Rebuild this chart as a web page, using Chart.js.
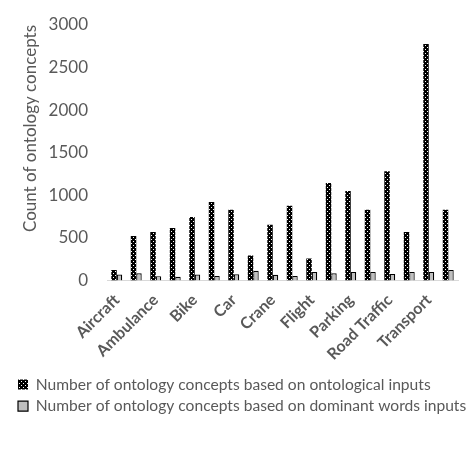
<!DOCTYPE html>
<html>
<head>
<meta charset="utf-8">
<script src="https://cdn.jsdelivr.net/npm/chart.js@4"></script>
<style>
    html, body { margin: 0; padding: 0; background: #ffffff; }
    #wrap { width: 474px; height: 474px; }
</style>
</head>
<body>
<div id="wrap"><canvas id="chart"></canvas></div>
<script>
// Only every other category name is printed in the reference; the hidden ones are left blank
const categories = ['Aircraft', '', 'Ambulance', '', 'Bike', '', 'Car', '', 'Crane', '',
    'Flight', '', 'Parking', '', 'Road Traffic', '', 'Transport', ''];
const ontologicalInputs = [125, 522, 569, 616, 745, 922, 831, 294, 655, 878,
    259, 1145, 1051, 831, 1282, 569, 2776, 831];
const dominantWordsInputs = [70, 86, 52, 45, 70, 55, 75, 114, 67, 55,
    102, 86, 102, 102, 78, 102, 102, 125];
const seriesNames = ['Number of ontology concepts based on ontological inputs',
    'Number of ontology concepts based on dominant words inputs'];
const yMax = 3000;
const yStep = 500;

const textColor = '#595959';
const font = 'Lato, "Open Sans", sans-serif';

function dot_pattern() {
    // black fill with small white dots, like the Excel pattern fill
    const c = document.createElement('canvas');
    c.width = 4;
    c.height = 4;
    const g = c.getContext('2d');
    g.fillStyle = '#000000';
    g.fillRect(0, 0, 4, 4);
    g.fillStyle = '#ffffff';
    g.fillRect(1, 1, 1, 1);
    g.fillRect(3, 3, 1, 1);
    return g.createPattern(c, 'repeat');
}

const ctx = document.getElementById('chart').getContext('2d');
new Chart(ctx, {
    type: 'bar',
    data: {
        labels: categories,
        datasets: [
            {
                label: seriesNames[0],
                data: ontologicalInputs,
                backgroundColor: dot_pattern(),
                borderColor: '#000000',
                borderWidth: 0,
                categoryPercentage: 0.56,
                barPercentage: 1.0
            },
            {
                label: seriesNames[1],
                data: dominantWordsInputs,
                backgroundColor: '#bfbfbf',
                borderColor: '#000000',
                borderWidth: 1.2,
                categoryPercentage: 0.56,
                barPercentage: 1.0
            }
        ]
    },
    options: {
        responsive: true,
        maintainAspectRatio: false,
        animation: false,
        layout: {
            padding: { left: 12, right: 4, top: 25, bottom: 50 }
        },
        plugins: {
            tooltip: { enabled: false },
            legend: {
                position: 'bottom',
                align: 'start',
                labels: {
                    boxWidth: 10,
                    boxHeight: 10,
                    padding: 6,
                    color: textColor,
                    font: { family: font, size: 15.6 }
                }
            }
        },
        scales: {
            x: {
                grid: { display: false },
                border: { display: true, color: '#d9d9d9', width: 1 },
                ticks: {
                    autoSkip: false,
                    minRotation: 45,
                    maxRotation: 45,
                    padding: 2,
                    color: textColor,
                    font: { family: font, size: 16, weight: 'bold' }
                },
                afterFit: scale => { scale.height += 5; }
            },
            y: {
                min: 0,
                max: yMax,
                grid: { display: false, drawTicks: false },
                border: { display: false },
                ticks: {
                    stepSize: yStep,
                    padding: 19,
                    color: textColor,
                    font: { family: font, size: 17 },
                    callback: value => String(value)
                },
                title: {
                    display: true,
                    align: 'end',
                    text: 'Count of ontology concepts',
                    color: textColor,
                    padding: 8,
                    font: { family: font, size: 17 }
                },
                afterFit: scale => {
                    scale.width = 95;
                    // top label room comes from the layout padding instead
                    scale.paddingTop = 0;
                    scale.paddingBottom = 0;
                }
            },
            // empty strip on the right so the plot ends where the reference does
            // while the legend text can run further right
            yRight: {
                position: 'right',
                grid: { display: false, drawTicks: false },
                border: { display: false },
                ticks: { display: false },
                afterFit: scale => {
                    scale.width = 12;
                    scale.paddingTop = 0;
                    scale.paddingBottom = 0;
                }
            }
        }
    }
});
</script>
</body>
</html>
